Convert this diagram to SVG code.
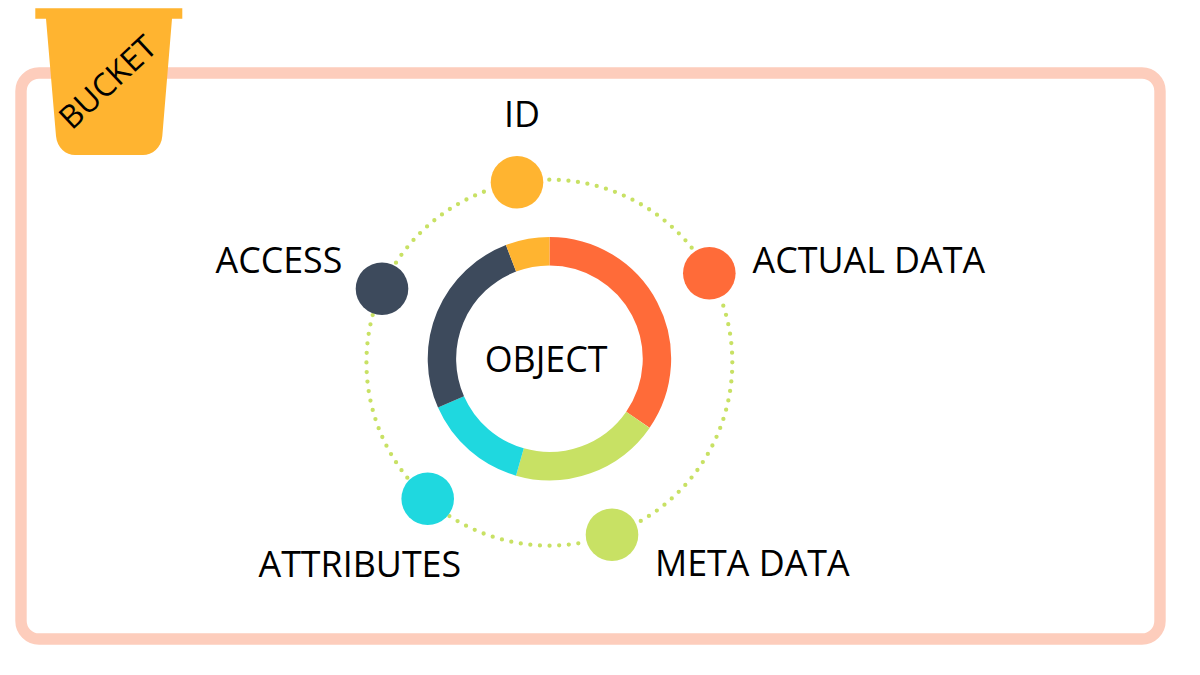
<svg xmlns="http://www.w3.org/2000/svg" width="1200" height="675" viewBox="0 0 1200 675">
<style>
text{font-family:"Open Sans","Noto Sans","Liberation Sans",sans-serif;font-size:35.800px;fill:#000}
.dots{fill:none;stroke:#c8e164;stroke-width:4.300;stroke-linecap:round}
.seg{fill:none;stroke-width:28.4}
</style>
<rect width="1200" height="675" fill="#fff"/>
<rect id="frame" x="21" y="73" width="1139" height="566" rx="18" fill="none" stroke="#fdcdbc" stroke-width="11.400"/>
<g id="connectors">
<path class="dots" pathLength="17.01" stroke-dasharray="0 1" d="M549.3 179.700A183 183 0 0 1 691.700 247.700"/>
<path class="dots" pathLength="26.01" stroke-dasharray="0 1" d="M723.300 305.700A183 183 0 0 1 640.700 521"/>
<path class="dots" pathLength="14.01" stroke-dasharray="0 1" d="M578.300 543.300A183 183 0 0 1 449.300 516"/>
<path class="dots" pathLength="18.01" stroke-dasharray="0 1" d="M407.300 477.700A183 183 0 0 1 372.700 315"/>
<path class="dots" pathLength="12.01" stroke-dasharray="0 1" d="M396 262.700A183 183 0 0 1 484 191.700"/>
</g>
<g id="object">
<path class="seg" stroke="#ff6b39" d="M549.5 251.200A107.500 107.500 0 0 1 637.900 419.800"/>
<path class="seg" stroke="#c8e164" d="M637.900 419.800A107.500 107.500 0 0 1 519.900 462"/>
<path class="seg" stroke="#1fd8df" d="M519.900 462A107.500 107.500 0 0 1 451 401.900"/>
<path class="seg" stroke="#3d4a5c" d="M451 401.900A107.500 107.500 0 0 1 511 258.300"/>
<path class="seg" stroke="#ffb430" d="M511 258.300A107.500 107.500 0 0 1 549.500 251.200"/>
<text x="484.700" y="372">OBJECT</text>
</g>
<g id="bucket">
<path fill="#ffb430" d="M35.300 8.300H182.300V18.700H172L162.300 136C161.500 148 152 155 143 155H75C66 155 57 148 56 136L46 18.700H35.300Z"/>
<text transform="translate(71.700 131) rotate(-43)" style="font-size:32px">BUCKET</text>
</g>
<g id="node-id"><circle cx="517" cy="182.300" r="26.300" fill="#ffb430"/><text x="504" y="126.700">ID</text></g>
<g id="node-actual-data"><circle cx="709.300" cy="273.300" r="26.300" fill="#ff6b39"/><text x="752.500" y="272.700">ACTUAL DATA</text></g>
<g id="node-meta-data"><circle cx="612" cy="534.700" r="26.300" fill="#c8e164"/><text x="655" y="575.700">META DATA</text></g>
<g id="node-attributes"><circle cx="427.700" cy="498.700" r="26.300" fill="#1fd8df"/><text x="258.500" y="576.700">ATTRIBUTES</text></g>
<g id="node-access"><circle cx="382" cy="288.700" r="26.300" fill="#3d4a5c"/><text x="215.500" y="272.700">ACCESS</text></g>
</svg>
